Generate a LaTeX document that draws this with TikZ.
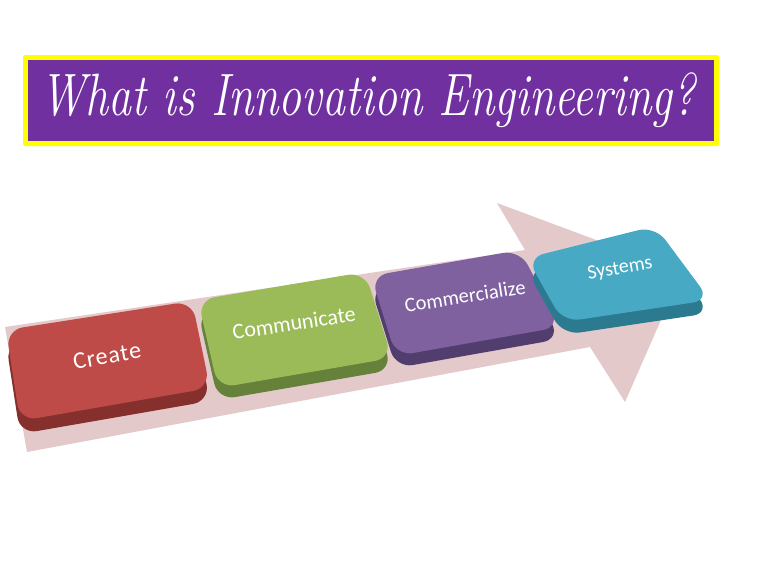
\documentclass[tikz,border=0pt]{standalone}
\usepackage{fontspec}
\usepackage{graphicx}
\setsansfont{Carlito}
\definecolor{titleyellow}{HTML}{FFFF00}
\definecolor{titlepurple}{HTML}{7030A0}
\definecolor{arrowpink}{HTML}{E4C9CB}
\definecolor{createtop}{HTML}{BE4B48}
\definecolor{createside}{HTML}{86302E}
\definecolor{commtop}{HTML}{9BBB59}
\definecolor{commside}{HTML}{66813A}
\definecolor{commerctop}{HTML}{7F61A0}
\definecolor{commercside}{HTML}{523E6E}
\definecolor{systop}{HTML}{48A9C4}
\definecolor{sysside}{HTML}{2B7A8F}
\tikzset{
  facebox/.style={rounded corners=17pt},
  boxtext/.style={text=white, inner sep=0pt},
  titletext/.style={text=white, font=\rmfamily\itshape\fontsize{46}{52}\selectfont, inner sep=0pt}
}
\begin{document}
\begin{tikzpicture}[x=1pt,y=-1pt]
\useasboundingbox (0,0) rectangle (768,576);
\fill[white] (0,0) rectangle (768,576);
% title banner
\fill[titleyellow, rounded corners=2pt] (23,55) rectangle (719,146);
\fill[titlepurple] (28,60) rectangle (714,141);
\node[titletext] (title) at (368,100) {\scalebox{1}[1.3]{What is Innovation Engineering?}};
% arrow
\fill[arrowpink] (5,327) -- (525,250) -- (497,203) -- (682,272) -- (625,402) -- (590,347) -- (27,452) -- cycle;
% Create
\fill[createside, facebox, shift={(0,13)}] (6,330) -- (192,301) -- (210,388) -- (20,421) -- cycle;
\fill[createtop, facebox] (6,330) -- (192,301) -- (210,388) -- (20,421) -- cycle;
% Communicate
\fill[commside, facebox, shift={(0,12)}] (198,300) -- (365,272) -- (392,358) -- (218,388) -- cycle;
\fill[commtop, facebox] (198,300) -- (365,272) -- (392,358) -- (218,388) -- cycle;
% Commercialize
\fill[commercside, facebox, shift={(0,12)}] (371,276) -- (520,250) -- (560,327) -- (396,356) -- cycle;
\fill[commerctop, facebox] (371,276) -- (520,250) -- (560,327) -- (396,356) -- cycle;
% Systems
\fill[sysside, facebox, shift={(0,13)}] (527,258) -- (655,226) -- (710,300) -- (563,322) -- cycle;
\fill[systop, facebox] (527,258) -- (655,226) -- (710,300) -- (563,322) -- cycle;
% labels
\node[boxtext, rotate=10, font=\sffamily\fontsize{24}{28}\selectfont\addfontfeatures{LetterSpace=4}] (create) at (107,356) {Create};
\node[boxtext, rotate=8.5, font=\sffamily\fontsize{22}{26}\selectfont] (comm) at (294,323) {Communicate};
\node[boxtext, rotate=9, font=\sffamily\fontsize{20.5}{24}\selectfont] (commerc) at (465,296) {Commercialize};
\node[boxtext, rotate=10, font=\sffamily\fontsize{20}{24}\selectfont] (sys) at (620,269) {Systems};
\end{tikzpicture}
\end{document}
